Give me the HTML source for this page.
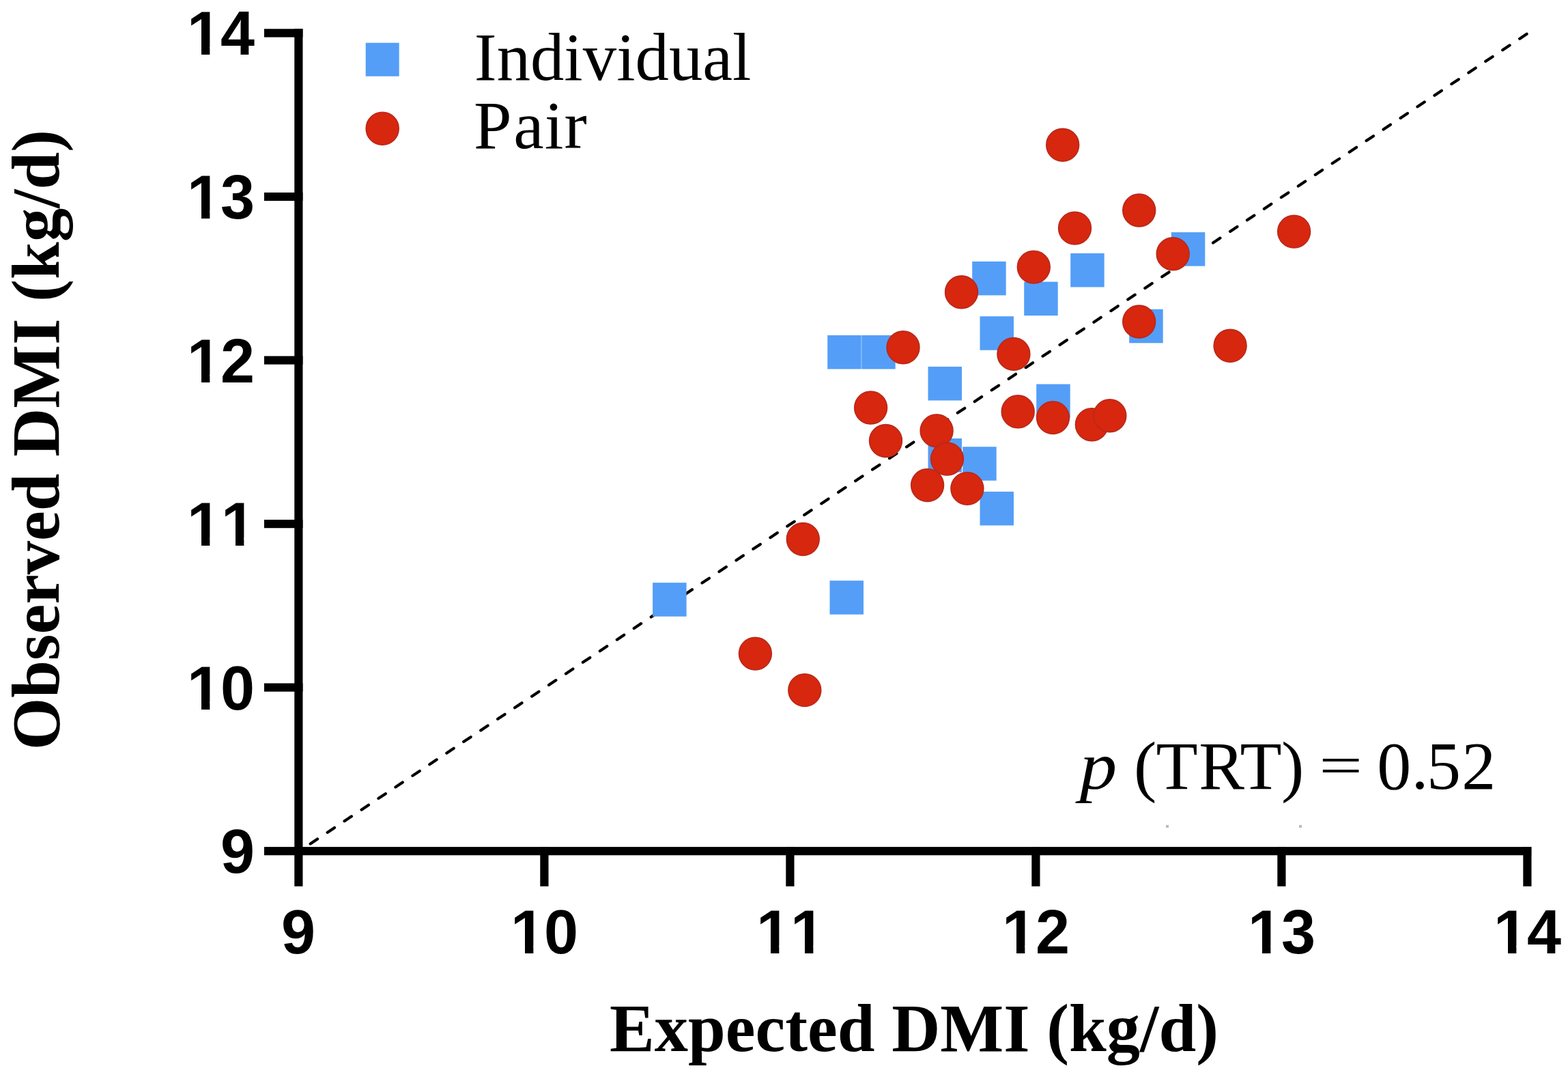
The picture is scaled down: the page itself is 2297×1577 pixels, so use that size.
<!DOCTYPE html><html><head><meta charset="utf-8"><title>Observed vs Expected DMI</title><style>
html,body{margin:0;padding:0;background:#fff;width:2297px;height:1577px;overflow:hidden}
svg{display:block}
text{font-kerning:none}
.tk{font-family:"Liberation Sans",Arial,sans-serif;font-weight:bold;font-size:90px;fill:#000}
.ttl{font-family:"Liberation Serif","Times New Roman",serif;font-weight:bold;font-size:100px;fill:#000}
.lg{font-family:"Liberation Serif","Times New Roman",serif;font-size:100px;fill:#000}
</style></head><body>
<svg width="2297" height="1577" viewBox="0 0 2297 1577">
<rect width="2297" height="1577" fill="#fff"/>
<line x1="437.4" y1="1247.0" x2="2237.4" y2="49.2" stroke="#000" stroke-width="4.2" stroke-linecap="round" stroke-dasharray="12.5 17.47" stroke-dashoffset="9.2"/>
<g fill="#549ef8">
<rect x="956.1" y="853.2" width="49.5" height="49.5"/>
<rect x="1215.5" y="850.2" width="49.5" height="49.5"/>
<rect x="1212.2" y="490.9" width="49.5" height="49.5"/>
<rect x="1262.2" y="490.9" width="49.5" height="49.5"/>
<rect x="1359.5" y="536.9" width="49.5" height="49.5"/>
<rect x="1359.5" y="642.0" width="49.5" height="49.5"/>
<rect x="1410.2" y="654.2" width="49.5" height="49.5"/>
<rect x="1435.5" y="719.9" width="49.5" height="49.5"/>
<rect x="1424.2" y="382.9" width="49.5" height="49.5"/>
<rect x="1500.2" y="412.6" width="49.5" height="49.5"/>
<rect x="1568.2" y="370.9" width="49.5" height="49.5"/>
<rect x="1435.5" y="463.2" width="49.5" height="49.5"/>
<rect x="1518.2" y="562.5" width="49.5" height="49.5"/>
<rect x="1715.8" y="340.1" width="49.5" height="49.5"/>
<rect x="1654.2" y="452.8" width="49.5" height="49.5"/>
</g>
<g fill="#d7270e" stroke="#b8291c" stroke-width="1.6">
<circle cx="1556.7" cy="212.3" r="23.90"/>
<circle cx="1574.5" cy="334.1" r="23.90"/>
<circle cx="1514.3" cy="391.1" r="23.90"/>
<circle cx="1408.5" cy="427.8" r="23.90"/>
<circle cx="1484.9" cy="518.4" r="23.90"/>
<circle cx="1491.2" cy="602.8" r="23.90"/>
<circle cx="1542.5" cy="611.6" r="23.90"/>
<circle cx="1599.4" cy="621.7" r="23.90"/>
<circle cx="1625.8" cy="608.7" r="23.90"/>
<circle cx="1372.1" cy="630.7" r="23.90"/>
<circle cx="1387.5" cy="672.0" r="23.90"/>
<circle cx="1358.6" cy="710.5" r="23.90"/>
<circle cx="1416.9" cy="715.4" r="23.90"/>
<circle cx="1323.0" cy="508.8" r="23.90"/>
<circle cx="1275.6" cy="597.0" r="23.90"/>
<circle cx="1297.5" cy="645.5" r="23.90"/>
<circle cx="1668.7" cy="308.0" r="23.90"/>
<circle cx="1718.2" cy="371.8" r="23.90"/>
<circle cx="1895.6" cy="339.1" r="23.90"/>
<circle cx="1668.7" cy="471.0" r="23.90"/>
<circle cx="1802.1" cy="506.3" r="23.90"/>
<circle cx="1176.3" cy="789.5" r="23.90"/>
<circle cx="1106.4" cy="957.1" r="23.90"/>
<circle cx="1178.8" cy="1010.6" r="23.90"/>
</g>
<g fill="#000">
<rect x="431.3" y="42.2" width="12.2" height="1255.6"/>
<rect x="387" y="1240.1" width="1856.2" height="12.2"/>
<rect x="791.3" y="1240.1" width="12.2" height="57.7"/>
<rect x="1151.3" y="1240.1" width="12.2" height="57.7"/>
<rect x="1511.3" y="1240.1" width="12.2" height="57.7"/>
<rect x="1871.3" y="1240.1" width="12.2" height="57.7"/>
<rect x="2231.3" y="1240.1" width="12.2" height="57.7"/>
<rect x="387" y="1000.5" width="56.5" height="12.2"/>
<rect x="387" y="761.0" width="56.5" height="12.2"/>
<rect x="387" y="521.4" width="56.5" height="12.2"/>
<rect x="387" y="281.9" width="56.5" height="12.2"/>
<rect x="387" y="42.3" width="56.5" height="12.2"/>
</g>
<text class="tk" x="323.00" y="1278.00">9</text>
<text class="tk" x="274.00 323.00" y="1039.00">10</text>
<text class="tk" x="274.00 324.00" y="799.00">11</text>
<text class="tk" x="274.00 323.00" y="560.00">12</text>
<text class="tk" x="274.00 323.00" y="320.00">13</text>
<text class="tk" x="274.00 323.00" y="80.00">14</text>
<text class="tk" x="412.00" y="1396.00">9</text>
<text class="tk" x="748.00 797.00" y="1396.00">10</text>
<text class="tk" x="1108.00 1158.00" y="1396.00">11</text>
<text class="tk" x="1468.00 1517.00" y="1396.00">12</text>
<text class="tk" x="1828.00 1877.00" y="1396.00">13</text>
<text class="tk" x="2188.00 2237.00" y="1396.00">14</text>
<g fill="#fff">
<rect x="277.67" y="1027.82" width="17.34" height="13.18"/>
<rect x="307.35" y="1027.82" width="16.19" height="13.18"/>
<rect x="277.67" y="787.82" width="17.34" height="13.18"/>
<rect x="307.35" y="787.82" width="16.19" height="13.18"/>
<rect x="327.67" y="787.82" width="17.34" height="13.18"/>
<rect x="357.35" y="787.82" width="16.19" height="13.18"/>
<rect x="277.67" y="548.82" width="17.34" height="13.18"/>
<rect x="307.35" y="548.82" width="16.19" height="13.18"/>
<rect x="277.67" y="308.82" width="17.34" height="13.18"/>
<rect x="307.35" y="308.82" width="16.19" height="13.18"/>
<rect x="277.67" y="68.82" width="17.34" height="13.18"/>
<rect x="307.35" y="68.82" width="16.19" height="13.18"/>
<rect x="751.67" y="1384.82" width="17.34" height="13.18"/>
<rect x="781.35" y="1384.82" width="16.19" height="13.18"/>
<rect x="1111.67" y="1384.82" width="17.34" height="13.18"/>
<rect x="1141.35" y="1384.82" width="16.19" height="13.18"/>
<rect x="1161.67" y="1384.82" width="17.34" height="13.18"/>
<rect x="1191.35" y="1384.82" width="16.19" height="13.18"/>
<rect x="1471.67" y="1384.82" width="17.34" height="13.18"/>
<rect x="1501.35" y="1384.82" width="16.19" height="13.18"/>
<rect x="1831.67" y="1384.82" width="17.34" height="13.18"/>
<rect x="1861.35" y="1384.82" width="16.19" height="13.18"/>
<rect x="2191.67" y="1384.82" width="17.34" height="13.18"/>
<rect x="2221.35" y="1384.82" width="16.19" height="13.18"/>
</g>
<text class="ttl" transform="translate(893.1,1538.6) scale(0.985,1)" x="0.00 66.70 116.70 172.31 216.70 261.08 294.38 338.77 394.38 419.38 491.60 585.99 624.90 649.90 683.20 738.82 788.82 816.60 872.22" y="0">Expected DMI (kg/d)</text>
<text class="ttl" transform="translate(85.8,1098.3) rotate(-90) scale(0.985,1)" x="0.00 77.78 133.40 172.31 216.70 261.08 311.08 355.47 411.08 436.08 508.30 602.69 641.60 666.60 699.90 755.52 805.52 833.30 888.92" y="0">Observed DMI (kg/d)</text>
<rect x="535.7" y="62.7" width="49" height="49" fill="#549ef8"/>
<circle cx="560.2" cy="188.3" r="24.0" fill="#d7270e" stroke="#b8291c" stroke-width="1.6"/>
<text class="lg" transform="translate(694.8,116.6) scale(0.987,1)" x="0.00 33.30 83.30 133.30 161.08 211.08 238.87 288.87 338.87 383.25" y="0">Individual</text>
<text class="lg" x="694.10 752.33 797.86 826.59" y="217.2">Pair</text>
<text class="lg" font-style="italic" transform="translate(1604.05,1155) scale(1.09,1)" x="-20.56" y="0">p</text>
<text class="lg" x="1660.96 1693.58 1756.33 1816.48 1876.89" y="1155">(TRT)</text>
<text class="lg" transform="translate(1964.1,1121.00) scale(1.13,0.78)" x="-28.25" y="33.20">=</text>
<text class="lg" x="2017.35 2067.60 2090.05 2141.16" y="1155">0.52</text>
<rect x="1708" y="1208" width="4" height="4" fill="#bbb"/><rect x="1903" y="1208" width="4" height="4" fill="#bbb"/>
</svg></body></html>
